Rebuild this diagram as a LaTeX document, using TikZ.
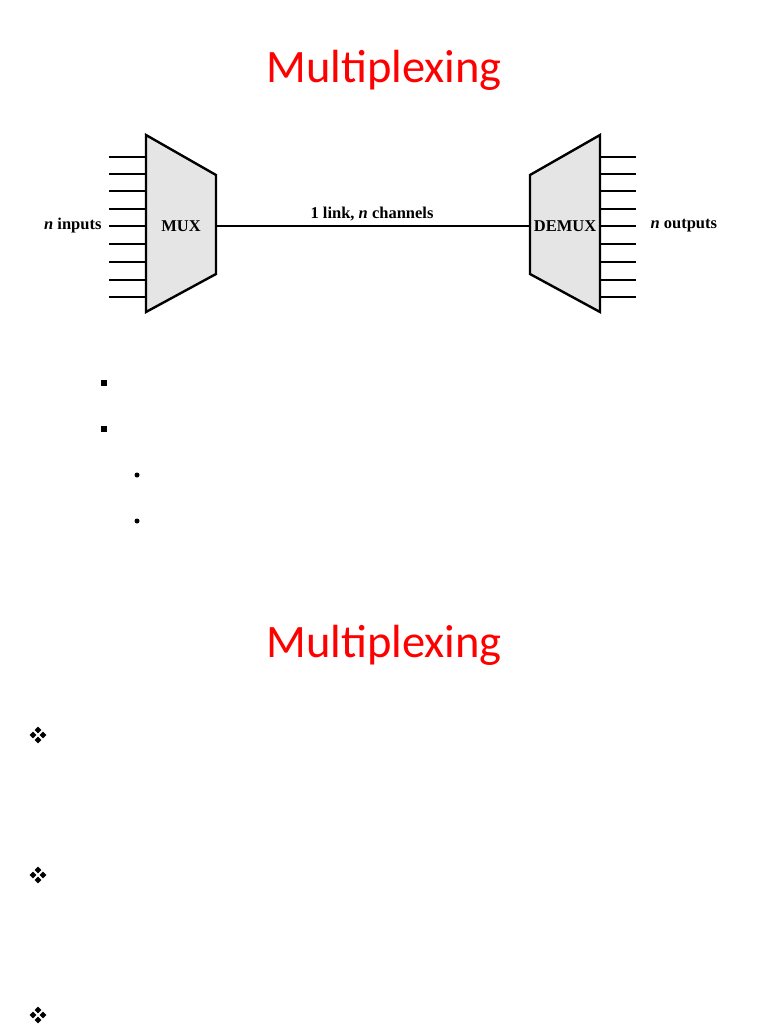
\documentclass[tikz,border=0pt]{standalone}
\usepackage{fontspec}
\setmainfont{Liberation Serif}
\newfontfamily\titlefont{Carlito}
\begin{document}
\begin{tikzpicture}[x=1pt,y=-1pt,
  ttl/.style={text=red,font=\titlefont\fontsize{46.5}{52}\selectfont},
  lbl/.style={font=\bfseries\fontsize{16.5}{19}\selectfont},
  box/.style={draw,line width=2.4pt,fill=gray!20,line join=miter},
  wire/.style={line width=1.5pt},
  diam/.style={fill=black}]
\useasboundingbox (0,0) rectangle (768,1024);
\node[ttl] (t1) at (384,70) {Multiplexing};
\node[ttl] (t2) at (384,645) {Multiplexing};
\draw[box] (146,135) -- (216,175) -- (216,274) -- (146,312) -- cycle;
\draw[box] (600,135) -- (530,175) -- (530,274) -- (600,312) -- cycle;
\node[lbl] (mux) at (181,226) {MUX};
\node[lbl] (demux) at (565,226) {DEMUX};
\foreach \y in {157,174,191,209,226,244,262,280,297}{
  \draw[wire] (109,\y) -- (146,\y);
  \draw[wire] (600,\y) -- (636,\y);
}
\coordinate (mo) at (216,226);
\coordinate (di) at (530,226);
\draw[wire] (mo) -- (di);
\node[lbl] (link) at (372,214) {1 link, \textit{n} channels};
\node[lbl,anchor=east] (in) at (105,226) {\textit{n} inputs};
\node[lbl,anchor=west] (out) at (647,226) {\textit{n} outputs};
\foreach \y in {383,429} \fill (100.5,\y-3) rectangle +(6,6);
\foreach \y in {475,521} \fill (137,\y) circle (2.5);
\foreach \y in {735,875,1015}{
  \foreach \dx/\dy in {0/-5,-5/0,5/0,0/5}
    \fill[diam] (38+\dx,\y+\dy) +(0,-3.3) -- +(3.3,0) -- +(0,3.3) -- +(-3.3,0) -- cycle;
}
\end{tikzpicture}
\end{document}
